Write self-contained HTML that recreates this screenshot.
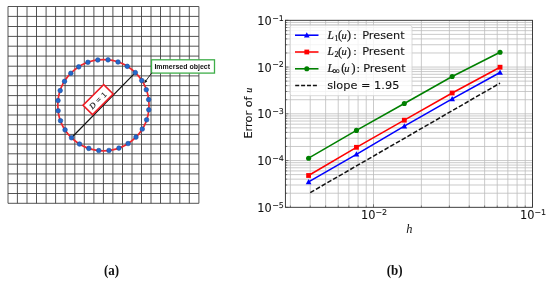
<!DOCTYPE html>
<html><head><meta charset="utf-8"><style>
html,body{margin:0;padding:0;background:#fff;}
body{width:550px;height:283px;overflow:hidden;}
svg{display:block;}
</style></head><body>
<svg width="550" height="283" viewBox="0 0 550 283">
<rect width="550" height="283" fill="#fff"/>
<path d="M8.00 6.50V203.30M17.40 6.50V203.30M27.00 6.50V203.30M36.50 6.50V203.30M46.10 6.50V203.30M55.60 6.50V203.30M65.10 6.50V203.30M74.80 6.50V203.30M84.30 6.50V203.30M93.90 6.50V203.30M103.40 6.50V203.30M112.90 6.50V203.30M122.50 6.50V203.30M132.00 6.50V203.30M141.50 6.50V203.30M151.00 6.50V203.30M160.50 6.50V203.30M170.10 6.50V203.30M179.80 6.50V203.30M189.30 6.50V203.30M198.90 6.50V203.30M8.00 6.50H198.90M8.00 16.40H198.90M8.00 26.50H198.90M8.00 36.40H198.90M8.00 46.20H198.90M8.00 56.10H198.90M8.00 66.20H198.90M8.00 75.90H198.90M8.00 85.60H198.90M8.00 95.60H198.90M8.00 105.30H198.90M8.00 115.00H198.90M8.00 124.70H198.90M8.00 134.40H198.90M8.00 144.10H198.90M8.00 153.80H198.90M8.00 164.20H198.90M8.00 173.90H198.90M8.00 183.60H198.90M8.00 193.50H198.90M8.00 203.30H198.90" stroke="#424242" stroke-width="0.9" fill="none"/>
<circle cx="103.4" cy="105.2" r="45.6" fill="none" stroke="#f0262e" stroke-width="1.7"/>
<line x1="71.50" y1="137.78" x2="135.30" y2="72.62" stroke="#111" stroke-width="1.2"/>
<circle cx="148.66" cy="99.62" r="2.3" fill="#2468cc" stroke="#184a98" stroke-width="0.6"/>
<circle cx="146.28" cy="89.69" r="2.3" fill="#2468cc" stroke="#184a98" stroke-width="0.6"/>
<circle cx="141.75" cy="80.54" r="2.3" fill="#2468cc" stroke="#184a98" stroke-width="0.6"/>
<circle cx="135.30" cy="72.62" r="2.3" fill="#2468cc" stroke="#184a98" stroke-width="0.6"/>
<circle cx="127.26" cy="66.34" r="2.3" fill="#2468cc" stroke="#184a98" stroke-width="0.6"/>
<circle cx="118.01" cy="62.00" r="2.3" fill="#2468cc" stroke="#184a98" stroke-width="0.6"/>
<circle cx="108.03" cy="59.84" r="2.3" fill="#2468cc" stroke="#184a98" stroke-width="0.6"/>
<circle cx="97.82" cy="59.94" r="2.3" fill="#2468cc" stroke="#184a98" stroke-width="0.6"/>
<circle cx="87.89" cy="62.32" r="2.3" fill="#2468cc" stroke="#184a98" stroke-width="0.6"/>
<circle cx="78.74" cy="66.85" r="2.3" fill="#2468cc" stroke="#184a98" stroke-width="0.6"/>
<circle cx="70.82" cy="73.30" r="2.3" fill="#2468cc" stroke="#184a98" stroke-width="0.6"/>
<circle cx="64.54" cy="81.34" r="2.3" fill="#2468cc" stroke="#184a98" stroke-width="0.6"/>
<circle cx="60.20" cy="90.59" r="2.3" fill="#2468cc" stroke="#184a98" stroke-width="0.6"/>
<circle cx="58.04" cy="100.57" r="2.3" fill="#2468cc" stroke="#184a98" stroke-width="0.6"/>
<circle cx="58.14" cy="110.78" r="2.3" fill="#2468cc" stroke="#184a98" stroke-width="0.6"/>
<circle cx="60.52" cy="120.71" r="2.3" fill="#2468cc" stroke="#184a98" stroke-width="0.6"/>
<circle cx="65.05" cy="129.86" r="2.3" fill="#2468cc" stroke="#184a98" stroke-width="0.6"/>
<circle cx="71.50" cy="137.78" r="2.3" fill="#2468cc" stroke="#184a98" stroke-width="0.6"/>
<circle cx="79.54" cy="144.06" r="2.3" fill="#2468cc" stroke="#184a98" stroke-width="0.6"/>
<circle cx="88.79" cy="148.40" r="2.3" fill="#2468cc" stroke="#184a98" stroke-width="0.6"/>
<circle cx="98.77" cy="150.56" r="2.3" fill="#2468cc" stroke="#184a98" stroke-width="0.6"/>
<circle cx="108.98" cy="150.46" r="2.3" fill="#2468cc" stroke="#184a98" stroke-width="0.6"/>
<circle cx="118.91" cy="148.08" r="2.3" fill="#2468cc" stroke="#184a98" stroke-width="0.6"/>
<circle cx="128.06" cy="143.55" r="2.3" fill="#2468cc" stroke="#184a98" stroke-width="0.6"/>
<circle cx="135.98" cy="137.10" r="2.3" fill="#2468cc" stroke="#184a98" stroke-width="0.6"/>
<circle cx="142.26" cy="129.06" r="2.3" fill="#2468cc" stroke="#184a98" stroke-width="0.6"/>
<circle cx="146.60" cy="119.81" r="2.3" fill="#2468cc" stroke="#184a98" stroke-width="0.6"/>
<circle cx="148.76" cy="109.83" r="2.3" fill="#2468cc" stroke="#184a98" stroke-width="0.6"/>
<g transform="translate(98.1 99.6) rotate(-45)"><rect x="-14.6" y="-6.7" width="29.2" height="13.4" fill="#fff" stroke="#ee1c24" stroke-width="1.6"/><text x="-0.5" y="3.1" text-anchor="middle" font-family="Liberation Serif" font-size="8" letter-spacing="0.55" fill="#1a1a1a" stroke="#1a1a1a" stroke-width="0.2"><tspan font-style="italic">D</tspan> = 1</text></g>
<rect x="151.5" y="59.8" width="63" height="13.3" fill="#fff" stroke="#3fae49" stroke-width="1.3"/>
<text x="182.2" y="69.2" text-anchor="middle" font-family="Liberation Sans" font-weight="bold" font-size="7" fill="#111">Immersed object</text>
<line x1="151.8" y1="72.8" x2="145.6" y2="81.2" stroke="#111" stroke-width="0.9"/>
<path d="M144.3 83.2 L144.9 79.6 L147.3 81.4 Z" fill="#111"/>
<path d="M290.36 20.30V207.30M310.23 20.30V207.30M325.64 20.30V207.30M338.23 20.30V207.30M348.87 20.30V207.30M358.09 20.30V207.30M366.22 20.30V207.30M373.50 20.30V207.30M421.36 20.30V207.30M449.36 20.30V207.30M469.23 20.30V207.30M484.64 20.30V207.30M497.23 20.30V207.30M507.87 20.30V207.30M517.09 20.30V207.30M525.22 20.30V207.30M285.40 193.23H532.50M285.40 184.99H532.50M285.40 179.15H532.50M285.40 174.62H532.50M285.40 170.92H532.50M285.40 167.79H532.50M285.40 165.08H532.50M285.40 162.69H532.50M285.40 160.55H532.50M285.40 146.48H532.50M285.40 138.24H532.50M285.40 132.40H532.50M285.40 127.87H532.50M285.40 124.17H532.50M285.40 121.04H532.50M285.40 118.33H532.50M285.40 115.94H532.50M285.40 113.80H532.50M285.40 99.73H532.50M285.40 91.49H532.50M285.40 85.65H532.50M285.40 81.12H532.50M285.40 77.42H532.50M285.40 74.29H532.50M285.40 71.58H532.50M285.40 69.19H532.50M285.40 67.05H532.50M285.40 52.98H532.50M285.40 44.74H532.50M285.40 38.90H532.50M285.40 34.37H532.50M285.40 30.67H532.50M285.40 27.54H532.50M285.40 24.83H532.50M285.40 22.44H532.50" stroke="#bcbcbc" stroke-width="0.8" fill="none"/>
<line x1="310.23" y1="192.6" x2="500.04" y2="83.1" stroke="#111" stroke-width="1.5" stroke-dasharray="4.6 2"/>
<polyline points="308.59,181.90 356.45,154.30 404.32,126.20 452.18,98.90 500.04,72.50" fill="none" stroke="#0000ff" stroke-width="1.55"/>
<polyline points="308.59,175.50 356.45,147.30 404.32,120.20 452.18,93.00 500.04,67.20" fill="none" stroke="#ff0000" stroke-width="1.55"/>
<polyline points="308.59,158.20 356.45,130.40 404.32,103.50 452.18,76.50 500.04,52.20" fill="none" stroke="#008000" stroke-width="1.55"/>
<path d="M308.59 178.90L311.44 184.15L305.74 184.15Z" fill="#0000ff"/>
<path d="M356.45 151.30L359.30 156.55L353.60 156.55Z" fill="#0000ff"/>
<path d="M404.32 123.20L407.17 128.45L401.47 128.45Z" fill="#0000ff"/>
<path d="M452.18 95.90L455.03 101.15L449.33 101.15Z" fill="#0000ff"/>
<path d="M500.04 69.50L502.89 74.75L497.19 74.75Z" fill="#0000ff"/>
<rect x="306.19" y="173.10" width="4.8" height="4.8" fill="#ff0000"/>
<rect x="354.05" y="144.90" width="4.8" height="4.8" fill="#ff0000"/>
<rect x="401.92" y="117.80" width="4.8" height="4.8" fill="#ff0000"/>
<rect x="449.78" y="90.60" width="4.8" height="4.8" fill="#ff0000"/>
<rect x="497.64" y="64.80" width="4.8" height="4.8" fill="#ff0000"/>
<circle cx="308.59" cy="158.20" r="2.55" fill="#008000"/>
<circle cx="356.45" cy="130.40" r="2.55" fill="#008000"/>
<circle cx="404.32" cy="103.50" r="2.55" fill="#008000"/>
<circle cx="452.18" cy="76.50" r="2.55" fill="#008000"/>
<circle cx="500.04" cy="52.20" r="2.55" fill="#008000"/>
<rect x="290.2" y="25.3" width="121.8" height="70.4" rx="2" fill="#fff" fill-opacity="0.8" stroke="#d0d0d0" stroke-width="0.8"/>
<line x1="295" y1="35.2" x2="318.5" y2="35.2" stroke="#0000ff" stroke-width="1.55"/>
<path d="M306.80 32.20L309.65 37.45L303.95 37.45Z" fill="#0000ff"/>
<line x1="295" y1="52.0" x2="318.5" y2="52.0" stroke="#ff0000" stroke-width="1.55"/>
<rect x="304.40000000000003" y="49.6" width="4.8" height="4.8" fill="#ff0000"/>
<line x1="295" y1="68.8" x2="318.5" y2="68.8" stroke="#008000" stroke-width="1.55"/>
<circle cx="306.8" cy="68.8" r="2.55" fill="#008000"/>
<line x1="295.2" y1="85.6" x2="318.5" y2="85.6" stroke="#111" stroke-width="1.5" stroke-dasharray="4 1.9"/>
<g fill="#111" stroke="#111" stroke-width="0.2"><text x="327.5" y="38.9" font-family="Liberation Serif" font-style="italic" font-size="11.5">L</text><text x="334.6" y="40.70" font-family="Liberation Serif" font-size="7.7">1</text><text x="337.95" y="39.30" font-family="Liberation Serif" font-size="12">(</text><text x="341.6" y="38.9" font-family="Liberation Serif" font-style="italic" font-size="10.5">u</text><text x="347.05" y="39.30" font-family="Liberation Serif" font-size="12">)</text><text x="353.4" y="38.9" font-family="Liberation Serif" font-size="11">:</text><text x="362.15" y="38.9" font-family="DejaVu Sans" font-size="11.35" stroke="#111" stroke-width="0.08">Present</text></g>
<g fill="#111" stroke="#111" stroke-width="0.2"><text x="327.5" y="55.4" font-family="Liberation Serif" font-style="italic" font-size="11.5">L</text><text x="334.6" y="57.20" font-family="Liberation Serif" font-size="7.7">2</text><text x="337.95" y="55.80" font-family="Liberation Serif" font-size="12">(</text><text x="341.6" y="55.4" font-family="Liberation Serif" font-style="italic" font-size="10.5">u</text><text x="347.05" y="55.80" font-family="Liberation Serif" font-size="12">)</text><text x="353.4" y="55.4" font-family="Liberation Serif" font-size="11">:</text><text x="362.15" y="55.4" font-family="DejaVu Sans" font-size="11.35" stroke="#111" stroke-width="0.08">Present</text></g>
<g fill="#111" stroke="#111" stroke-width="0.2"><text x="327.5" y="72.0" font-family="Liberation Serif" font-style="italic" font-size="11.5">L</text><text x="332.4" y="74.20" font-family="Liberation Serif" font-size="10">∞</text><text x="341.2" y="72.40" font-family="Liberation Serif" font-size="12">(</text><text x="344.2" y="72.0" font-family="Liberation Serif" font-style="italic" font-size="10.5">u</text><text x="351.4" y="72.40" font-family="Liberation Serif" font-size="12">)</text><text x="356.8" y="72.0" font-family="Liberation Serif" font-size="11">:</text><text x="363.2" y="72.0" font-family="DejaVu Sans" font-size="11.35" stroke="#111" stroke-width="0.08">Present</text></g>
<text x="327.2" y="89.3" font-family="DejaVu Sans" stroke="#111" stroke-width="0.08" font-size="11.35" fill="#111">slope = 1.95</text>
<rect x="285.4" y="20.3" width="247.10" height="187.00" fill="none" stroke="#2a2a2a" stroke-width="0.9"/>
<path d="M290.36 207.30v-1.8M310.23 207.30v-1.8M325.64 207.30v-1.8M338.23 207.30v-1.8M348.87 207.30v-1.8M358.09 207.30v-1.8M366.22 207.30v-1.8M373.50 207.30v-3M421.36 207.30v-1.8M449.36 207.30v-1.8M469.23 207.30v-1.8M484.64 207.30v-1.8M497.23 207.30v-1.8M507.87 207.30v-1.8M517.09 207.30v-1.8M525.22 207.30v-1.8M532.50 207.30v-3M285.40 207.30h3M285.40 193.23h1.8M285.40 184.99h1.8M285.40 179.15h1.8M285.40 174.62h1.8M285.40 170.92h1.8M285.40 167.79h1.8M285.40 165.08h1.8M285.40 162.69h1.8M285.40 160.55h3M285.40 146.48h1.8M285.40 138.24h1.8M285.40 132.40h1.8M285.40 127.87h1.8M285.40 124.17h1.8M285.40 121.04h1.8M285.40 118.33h1.8M285.40 115.94h1.8M285.40 113.80h3M285.40 99.73h1.8M285.40 91.49h1.8M285.40 85.65h1.8M285.40 81.12h1.8M285.40 77.42h1.8M285.40 74.29h1.8M285.40 71.58h1.8M285.40 69.19h1.8M285.40 67.05h3M285.40 52.98h1.8M285.40 44.74h1.8M285.40 38.90h1.8M285.40 34.37h1.8M285.40 30.67h1.8M285.40 27.54h1.8M285.40 24.83h1.8M285.40 22.44h1.8M285.40 20.30h3" stroke="#333" stroke-width="0.6" fill="none"/>
<text transform="translate(271.6 24.80) scale(1 1.07)" text-anchor="end" font-family="DejaVu Sans" stroke="#111" stroke-width="0.08" font-size="11.35" fill="#111">10</text>
<text x="272.2" y="20.70" font-family="DejaVu Sans" stroke="#111" stroke-width="0.08" font-size="7.95" fill="#111">−1</text>
<text transform="translate(271.6 71.55) scale(1 1.07)" text-anchor="end" font-family="DejaVu Sans" stroke="#111" stroke-width="0.08" font-size="11.35" fill="#111">10</text>
<text x="272.2" y="67.45" font-family="DejaVu Sans" stroke="#111" stroke-width="0.08" font-size="7.95" fill="#111">−2</text>
<text transform="translate(271.6 118.30) scale(1 1.07)" text-anchor="end" font-family="DejaVu Sans" stroke="#111" stroke-width="0.08" font-size="11.35" fill="#111">10</text>
<text x="272.2" y="114.20" font-family="DejaVu Sans" stroke="#111" stroke-width="0.08" font-size="7.95" fill="#111">−3</text>
<text transform="translate(271.6 165.05) scale(1 1.07)" text-anchor="end" font-family="DejaVu Sans" stroke="#111" stroke-width="0.08" font-size="11.35" fill="#111">10</text>
<text x="272.2" y="160.95" font-family="DejaVu Sans" stroke="#111" stroke-width="0.08" font-size="7.95" fill="#111">−4</text>
<text transform="translate(271.6 211.80) scale(1 1.07)" text-anchor="end" font-family="DejaVu Sans" stroke="#111" stroke-width="0.08" font-size="11.35" fill="#111">10</text>
<text x="272.2" y="207.70" font-family="DejaVu Sans" stroke="#111" stroke-width="0.08" font-size="7.95" fill="#111">−5</text>
<text transform="translate(375.35 218.8) scale(1 1.07)" text-anchor="end" font-family="DejaVu Sans" stroke="#111" stroke-width="0.08" font-size="11.35" fill="#111">10</text>
<text x="375.40" y="214.6" font-family="DejaVu Sans" stroke="#111" stroke-width="0.08" font-size="7.95" fill="#111">−2</text>
<text transform="translate(534.35 218.8) scale(1 1.07)" text-anchor="end" font-family="DejaVu Sans" stroke="#111" stroke-width="0.08" font-size="11.35" fill="#111">10</text>
<text x="534.40" y="214.6" font-family="DejaVu Sans" stroke="#111" stroke-width="0.08" font-size="7.95" fill="#111">−1</text>
<text x="406.2" y="232.7" font-family="Liberation Serif" font-style="italic" font-size="12.4" fill="#111">h</text>
<text transform="translate(251.6 138.6) rotate(-90)" font-family="DejaVu Sans" stroke="#111" stroke-width="0.08" font-size="11.35" fill="#111">Error of <tspan font-family="Liberation Serif" font-style="italic" font-size="10.2">u</tspan></text>
<text transform="translate(111.6 275.4) scale(1 1.1)" text-anchor="middle" font-family="Liberation Serif" font-weight="bold" font-size="13" fill="#111">(a)</text>
<text transform="translate(394.7 275.4) scale(1 1.1)" text-anchor="middle" font-family="Liberation Serif" font-weight="bold" font-size="13" fill="#111">(b)</text>
</svg>
</body></html>
